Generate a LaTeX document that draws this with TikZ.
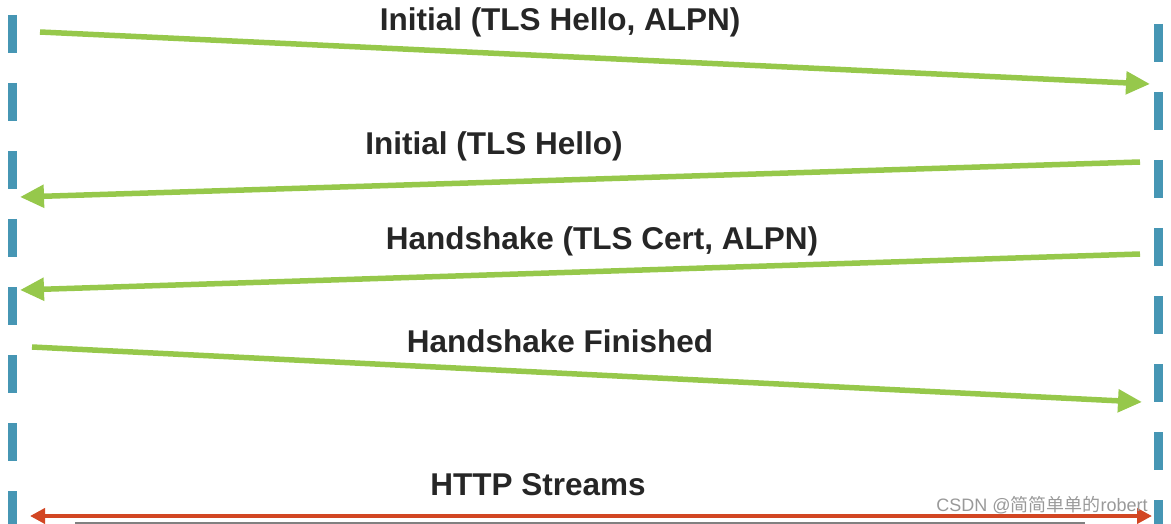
\documentclass[tikz,border=0pt]{standalone}
\usepackage{fontspec}
\setmainfont{Liberation Sans}
\newfontfamily\cjk{Noto Sans CJK SC}
\usetikzlibrary{arrows.meta}
\definecolor{lgreen}{RGB}{150,200,75}
\definecolor{lblue}{RGB}{70,150,180}
\definecolor{lred}{RGB}{210,70,35}
\begin{document}
\begin{tikzpicture}[x=1pt,y=-1pt,
  lifeline/.style={lblue,line width=9pt,dash pattern=on 38pt off 30pt},
  msg/.style={lgreen,line width=5.5pt,-{Triangle[length=24pt,width=22pt]}},
  lbl/.style={font=\bfseries\fontsize{31.5}{34}\selectfont,text=black!85,inner sep=0pt},
  stream/.style={lred,line width=4pt,{Triangle[length=15pt,width=15pt]}-{Triangle[length=15pt,width=15pt]}}]
\useasboundingbox (0,0) rectangle (1171,524);
\coordinate (l0) at (12,15); \coordinate (l1) at (12,530);
\coordinate (r0) at (1158,24); \coordinate (r1) at (1158,530);
\draw[lifeline] (l0) -- (l1);
\draw[lifeline] (r0) -- (r1);
\coordinate (a1) at (40,32); \coordinate (b1) at (1150,84);
\coordinate (a2) at (1140,162); \coordinate (b2) at (20,197);
\coordinate (a3) at (1140,254); \coordinate (b3) at (20,290);
\coordinate (a4) at (32,347); \coordinate (b4) at (1142,402);
\coordinate (a5) at (30,516); \coordinate (b5) at (1152,516);
\draw[msg] (a1) -- (b1);
\draw[msg] (a2) -- (b2);
\draw[msg] (a3) -- (b3);
\draw[msg] (a4) -- (b4);
\draw[gray,line width=2pt] (75,523) -- (1085,523);
\draw[stream] (a5) -- (b5);
\node[lbl] (t1) at (560,22) {Initial (TLS Hello, ALPN)};
\node[lbl] (t2) at (494,146) {Initial (TLS Hello)};
\node[lbl] (t3) at (602,241) {Handshake (TLS Cert, ALPN)};
\node[lbl] (t4) at (560,341) {Handshake Finished};
\node[lbl] (t5) at (538,485) {HTTP Streams};
\node[text=gray!80,font=\fontsize{18}{20}\selectfont,inner sep=0pt] (wm) at (1042,505) {CSDN @{\cjk 简简单单的}robert};
\end{tikzpicture}
\end{document}
